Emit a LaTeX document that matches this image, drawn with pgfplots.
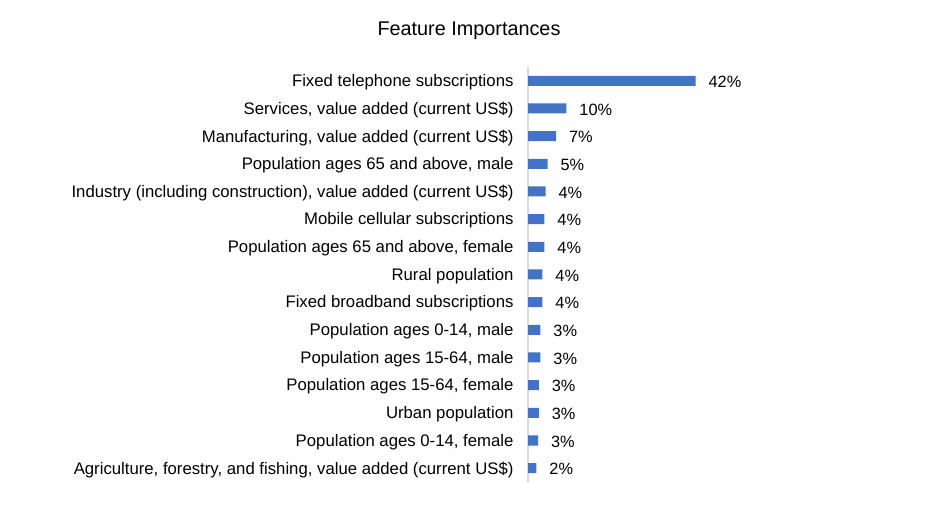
\documentclass[border=0pt]{standalone}
\usepackage{fontspec}
\setmainfont{Liberation Sans}
\usepackage{pgfplots}
\pgfplotsset{compat=1.18}
\definecolor{barblue}{HTML}{4472C4}
\definecolor{axisgray}{HTML}{D9D9D9}
\begin{document}
\begin{tikzpicture}[x=1bp,y=1bp]
\useasboundingbox (0,0) rectangle (939,505);
\node[font=\fontsize{19.9}{23}\selectfont] at (469,474.5) {Feature Importances};
\begin{axis}[
    at={(528bp,23bp)}, anchor=south west,
    scale only axis, width=200bp, height=415bp,
    xmin=0, xmax=50, ymin=-0.5, ymax=14.5, y dir=reverse,
    axis x line=none, axis y line*=left,
    y axis line style={axisgray, line width=1.5bp},
    ytick={0,...,14}, major tick length=0pt,
    yticklabel style={font=\fontsize{16.8}{19}\selectfont, xshift=-11bp, yshift=-1.5bp},
    yticklabels={
        {Fixed telephone subscriptions},
        {Services, value added (current US\$)},
        {Manufacturing, value added (current US\$)},
        {Population ages 65 and above, male},
        {Industry (including construction), value added (current US\$)},
        {Mobile cellular subscriptions},
        {Population ages 65 and above, female},
        {Rural population},
        {Fixed broadband subscriptions},
        {Population ages 0-14, male},
        {Population ages 15-64, male},
        {Population ages 15-64, female},
        {Urban population},
        {Population ages 0-14, female},
        {Agriculture, forestry, and fishing, value added (current US\$)}},
    xbar, bar width=10bp,
    nodes near coords, point meta=explicit symbolic,
    every node near coord/.append style={font=\fontsize{16.4}{19}\selectfont, anchor=west, xshift=9.5bp, yshift=-1bp},
    clip=false,
]
\addplot[fill=barblue, draw=none] coordinates {
    (41.9,0) [42\%]
    (9.6,1) [10\%]
    (7.0,2) [7\%]
    (4.9,3) [5\%]
    (4.4,4) [4\%]
    (4.1,5) [4\%]
    (4.1,6) [4\%]
    (3.6,7) [4\%]
    (3.6,8) [4\%]
    (3.1,9) [3\%]
    (3.1,10) [3\%]
    (2.7,11) [3\%]
    (2.7,12) [3\%]
    (2.5,13) [3\%]
    (2.1,14) [2\%]
};
\end{axis}
\end{tikzpicture}
\end{document}
